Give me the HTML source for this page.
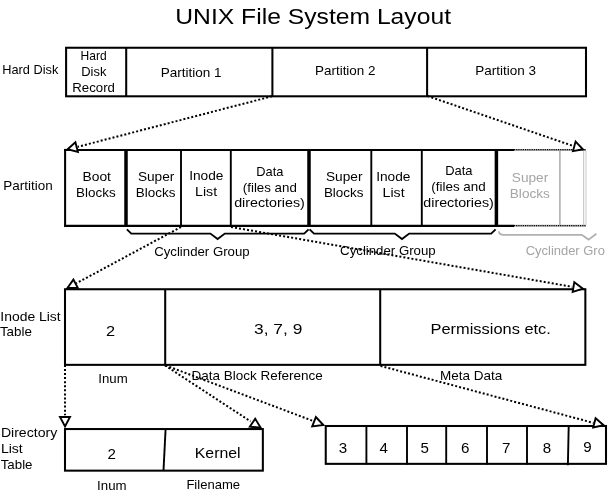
<!DOCTYPE html>
<html><head><meta charset="utf-8"><title>UNIX File System Layout</title>
<style>
html,body{margin:0;padding:0;background:#fff;}
svg{display:block;font-family:"Liberation Sans",sans-serif;will-change:transform;}
</style></head>
<body>
<svg width="609" height="497" viewBox="0 0 609 497">
<text x="313.15" y="23.70" font-size="21.40" text-anchor="middle" fill="#000" textLength="275.70" lengthAdjust="spacingAndGlyphs">UNIX File System Layout</text>
<rect x="66.1" y="47.75" width="519.90" height="48.55" fill="none" stroke="#000" stroke-width="2.05"/>
<line x1="126.2" y1="47.75" x2="126.2" y2="96.3" stroke="#000" stroke-width="2.05" />
<line x1="272.4" y1="47.75" x2="272.4" y2="96.3" stroke="#000" stroke-width="2.05" />
<line x1="427.1" y1="47.75" x2="427.1" y2="96.3" stroke="#000" stroke-width="2.05" />
<text x="30.30" y="73.70" font-size="12.80" text-anchor="middle" fill="#000" textLength="56.00" lengthAdjust="spacingAndGlyphs">Hard Disk</text>
<text x="93.55" y="59.80" font-size="12.80" text-anchor="middle" fill="#000" textLength="26.10" lengthAdjust="spacingAndGlyphs">Hard</text>
<text x="93.80" y="76.00" font-size="12.80" text-anchor="middle" fill="#000" textLength="25.20" lengthAdjust="spacingAndGlyphs">Disk</text>
<text x="93.60" y="91.80" font-size="12.80" text-anchor="middle" fill="#000" textLength="42.60" lengthAdjust="spacingAndGlyphs">Record</text>
<text x="191.15" y="76.60" font-size="12.80" text-anchor="middle" fill="#000" textLength="60.90" lengthAdjust="spacingAndGlyphs">Partition 1</text>
<text x="345.25" y="74.80" font-size="12.80" text-anchor="middle" fill="#000" textLength="60.50" lengthAdjust="spacingAndGlyphs">Partition 2</text>
<text x="505.55" y="75.30" font-size="12.80" text-anchor="middle" fill="#000" textLength="60.70" lengthAdjust="spacingAndGlyphs">Partition 3</text>
<line x1="65.1" y1="148.9" x2="65.1" y2="226.9" stroke="#000" stroke-width="2.05" />
<line x1="64.1" y1="149.9" x2="514" y2="149.9" stroke="#000" stroke-width="2.05" />
<line x1="64.1" y1="225.85" x2="514" y2="225.85" stroke="#000" stroke-width="2.05" />
<line x1="514" y1="149.9" x2="586" y2="149.9" stroke="#aaa" stroke-width="2"/>
<line x1="514" y1="149.70000000000002" x2="586" y2="149.70000000000002" stroke="#000" stroke-width="1.3" stroke-dasharray="1.1 1.1"/>
<line x1="514" y1="225.85" x2="586" y2="225.85" stroke="#aaa" stroke-width="2"/>
<line x1="514" y1="225.65" x2="586" y2="225.65" stroke="#000" stroke-width="1.3" stroke-dasharray="1.1 1.1"/>
<line x1="181.0" y1="149.9" x2="181.0" y2="225.85" stroke="#000" stroke-width="1.9" />
<line x1="230.8" y1="149.9" x2="230.8" y2="225.85" stroke="#000" stroke-width="1.9" />
<line x1="371.3" y1="149.9" x2="371.3" y2="225.85" stroke="#000" stroke-width="1.9" />
<line x1="421.8" y1="149.9" x2="421.8" y2="225.85" stroke="#000" stroke-width="1.9" />
<line x1="126.0" y1="149.9" x2="126.0" y2="225.85" stroke="#000" stroke-width="3.5" />
<line x1="309.0" y1="149.9" x2="309.0" y2="225.85" stroke="#000" stroke-width="3.5" />
<line x1="496.4" y1="149.9" x2="496.4" y2="225.85" stroke="#000" stroke-width="3.5" />
<line x1="559.9" y1="151" x2="559.9" y2="225" stroke="#b0b0b0" stroke-width="1.6" />
<line x1="583.7" y1="151" x2="583.7" y2="225" stroke="#b8b8b8" stroke-width="0.9" />
<line x1="586.0" y1="151" x2="586.0" y2="225" stroke="#c4c4c4" stroke-width="0.9" />
<text x="28.00" y="189.60" font-size="12.80" text-anchor="middle" fill="#000" textLength="49.40" lengthAdjust="spacingAndGlyphs">Partition</text>
<text x="96.70" y="180.70" font-size="12.80" text-anchor="middle" fill="#000" textLength="28.40" lengthAdjust="spacingAndGlyphs">Boot</text>
<text x="95.85" y="196.70" font-size="12.80" text-anchor="middle" fill="#000" textLength="39.50" lengthAdjust="spacingAndGlyphs">Blocks</text>
<text x="156.15" y="180.70" font-size="12.80" text-anchor="middle" fill="#000" textLength="36.50" lengthAdjust="spacingAndGlyphs">Super</text>
<text x="155.65" y="196.70" font-size="12.80" text-anchor="middle" fill="#000" textLength="39.70" lengthAdjust="spacingAndGlyphs">Blocks</text>
<text x="206.35" y="179.70" font-size="12.80" text-anchor="middle" fill="#000" textLength="34.30" lengthAdjust="spacingAndGlyphs">Inode</text>
<text x="206.10" y="195.60" font-size="12.80" text-anchor="middle" fill="#000" textLength="22.00" lengthAdjust="spacingAndGlyphs">List</text>
<text x="269.85" y="175.70" font-size="12.80" text-anchor="middle" fill="#000" textLength="27.10" lengthAdjust="spacingAndGlyphs">Data</text>
<text x="269.80" y="191.70" font-size="12.80" text-anchor="middle" fill="#000" textLength="54.00" lengthAdjust="spacingAndGlyphs">(files and</text>
<text x="269.50" y="207.30" font-size="12.80" text-anchor="middle" fill="#000" textLength="70.60" lengthAdjust="spacingAndGlyphs">directories)</text>
<text x="344.25" y="181.00" font-size="12.80" text-anchor="middle" fill="#000" textLength="36.50" lengthAdjust="spacingAndGlyphs">Super</text>
<text x="343.70" y="196.60" font-size="12.80" text-anchor="middle" fill="#000" textLength="39.60" lengthAdjust="spacingAndGlyphs">Blocks</text>
<text x="393.35" y="181.00" font-size="12.80" text-anchor="middle" fill="#000" textLength="34.30" lengthAdjust="spacingAndGlyphs">Inode</text>
<text x="393.60" y="196.60" font-size="12.80" text-anchor="middle" fill="#000" textLength="22.00" lengthAdjust="spacingAndGlyphs">List</text>
<text x="458.85" y="174.70" font-size="12.80" text-anchor="middle" fill="#000" textLength="27.30" lengthAdjust="spacingAndGlyphs">Data</text>
<text x="458.50" y="190.70" font-size="12.80" text-anchor="middle" fill="#000" textLength="54.40" lengthAdjust="spacingAndGlyphs">(files and</text>
<text x="458.55" y="206.70" font-size="12.80" text-anchor="middle" fill="#000" textLength="70.50" lengthAdjust="spacingAndGlyphs">directories)</text>
<text x="530.00" y="182.00" font-size="12.80" text-anchor="middle" fill="#a6a4a4" textLength="36.40" lengthAdjust="spacingAndGlyphs">Super</text>
<text x="529.85" y="197.90" font-size="12.80" text-anchor="middle" fill="#a6a4a4" textLength="40.10" lengthAdjust="spacingAndGlyphs">Blocks</text>
<path d="M126.9,229.4 L131.3,233.6 L210.4,233.6 L217.6,239.0 L224.79999999999998,233.6 L304.20000000000005,233.6 L308.6,229.4" fill="none" stroke="#000" stroke-width="1.9" stroke-linejoin="miter"/>
<path d="M309.6,229.4 L314.0,233.6 L394.8,233.6 L402,239.0 L409.2,233.6 L491.20000000000005,233.6 L495.6,229.4" fill="none" stroke="#000" stroke-width="1.9" stroke-linejoin="miter"/>
<path d="M498.8,231.3 Q499.3,234.8 503.5,234.8 L581.8,234.8 L588.6,239.6 L596.4,233.8" fill="none" stroke="#b0b0b0" stroke-width="1.8"/>
<text x="201.90" y="256.10" font-size="12.80" text-anchor="middle" fill="#000" textLength="95.40" lengthAdjust="spacingAndGlyphs">Cyclinder Group</text>
<text x="387.90" y="255.20" font-size="12.80" text-anchor="middle" fill="#000" textLength="95.60" lengthAdjust="spacingAndGlyphs">Cyclinder Group</text>
<text x="565.30" y="254.90" font-size="12.80" text-anchor="middle" fill="#a6a4a4" textLength="79.20" lengthAdjust="spacingAndGlyphs">Cyclinder Gro</text>
<rect x="65.0" y="289.25" width="520.35" height="75.60" fill="none" stroke="#000" stroke-width="2.05"/>
<line x1="165.2" y1="289.25" x2="165.2" y2="364.85" stroke="#000" stroke-width="2.05" />
<line x1="380.2" y1="289.25" x2="380.2" y2="364.85" stroke="#000" stroke-width="2.05" />
<text x="30.50" y="320.90" font-size="12.80" text-anchor="middle" fill="#000" textLength="60.40" lengthAdjust="spacingAndGlyphs">Inode List</text>
<text x="15.90" y="336.40" font-size="12.80" text-anchor="middle" fill="#000" textLength="32.00" lengthAdjust="spacingAndGlyphs">Table</text>
<text x="110.55" y="336.30" font-size="14.70" text-anchor="middle" fill="#000" textLength="9.10" lengthAdjust="spacingAndGlyphs">2</text>
<text x="278.20" y="333.80" font-size="14.70" text-anchor="middle" fill="#000" textLength="48.20" lengthAdjust="spacingAndGlyphs">3, 7, 9</text>
<text x="490.70" y="333.70" font-size="14.70" text-anchor="middle" fill="#000" textLength="120.40" lengthAdjust="spacingAndGlyphs">Permissions etc.</text>
<text x="113.00" y="382.80" font-size="12.80" text-anchor="middle" fill="#000" textLength="29.40" lengthAdjust="spacingAndGlyphs">Inum</text>
<text x="257.05" y="379.80" font-size="12.80" text-anchor="middle" fill="#000" textLength="131.30" lengthAdjust="spacingAndGlyphs">Data Block Reference</text>
<text x="471.05" y="379.60" font-size="12.80" text-anchor="middle" fill="#000" textLength="62.30" lengthAdjust="spacingAndGlyphs">Meta Data</text>
<rect x="65.0" y="429.05" width="197.85" height="41.60" fill="none" stroke="#000" stroke-width="2.05"/>
<line x1="165.6" y1="429" x2="163.5" y2="470.6" stroke="#000" stroke-width="1.9" />
<text x="29.05" y="436.60" font-size="12.80" text-anchor="middle" fill="#000" textLength="56.30" lengthAdjust="spacingAndGlyphs">Directory</text>
<text x="11.85" y="452.90" font-size="12.80" text-anchor="middle" fill="#000" textLength="21.90" lengthAdjust="spacingAndGlyphs">List</text>
<text x="16.60" y="468.60" font-size="12.80" text-anchor="middle" fill="#000" textLength="31.80" lengthAdjust="spacingAndGlyphs">Table</text>
<text x="111.80" y="459.40" font-size="14.70" text-anchor="middle" fill="#000" textLength="8.40" lengthAdjust="spacingAndGlyphs">2</text>
<text x="217.70" y="457.90" font-size="14.20" text-anchor="middle" fill="#000" textLength="45.80" lengthAdjust="spacingAndGlyphs">Kernel</text>
<text x="111.85" y="489.90" font-size="12.80" text-anchor="middle" fill="#000" textLength="29.50" lengthAdjust="spacingAndGlyphs">Inum</text>
<text x="213.25" y="489.30" font-size="12.80" text-anchor="middle" fill="#000" textLength="53.70" lengthAdjust="spacingAndGlyphs">Filename</text>
<rect x="325.75" y="426.0" width="280.25" height="37.85" fill="none" stroke="#000" stroke-width="2.05"/>
<line x1="366.4" y1="426" x2="366.4" y2="464.4" stroke="#000" stroke-width="1.9" />
<line x1="407.0" y1="426" x2="407.0" y2="464.4" stroke="#000" stroke-width="1.9" />
<line x1="446.2" y1="426" x2="446.2" y2="464.4" stroke="#000" stroke-width="1.9" />
<line x1="487.0" y1="426" x2="487.0" y2="464.4" stroke="#000" stroke-width="1.9" />
<line x1="527" y1="426" x2="527" y2="464.4" stroke="#000" stroke-width="1.9" />
<line x1="568.7" y1="426" x2="567.9" y2="465.2" stroke="#000" stroke-width="1.9" />
<text x="342.90" y="452.90" font-size="15.40" text-anchor="middle" fill="#000" textLength="8.40" lengthAdjust="spacingAndGlyphs">3</text>
<text x="383.70" y="452.90" font-size="15.40" text-anchor="middle" fill="#000" textLength="8.40" lengthAdjust="spacingAndGlyphs">4</text>
<text x="424.70" y="452.90" font-size="15.40" text-anchor="middle" fill="#000" textLength="8.40" lengthAdjust="spacingAndGlyphs">5</text>
<text x="465.30" y="453.00" font-size="15.40" text-anchor="middle" fill="#000" textLength="8.40" lengthAdjust="spacingAndGlyphs">6</text>
<text x="506.30" y="453.00" font-size="15.40" text-anchor="middle" fill="#000" textLength="8.40" lengthAdjust="spacingAndGlyphs">7</text>
<text x="547.00" y="453.00" font-size="15.40" text-anchor="middle" fill="#000" textLength="8.40" lengthAdjust="spacingAndGlyphs">8</text>
<text x="587.50" y="451.70" font-size="15.40" text-anchor="middle" fill="#000" textLength="8.40" lengthAdjust="spacingAndGlyphs">9</text>
<line x1="272" y1="96.3" x2="77.7" y2="146.8" stroke="#000" stroke-width="2" stroke-dasharray="2 2.07"/>
<line x1="427.5" y1="96.0" x2="573.3" y2="146.0" stroke="#000" stroke-width="2" stroke-dasharray="2 2.07"/>
<line x1="181" y1="227" x2="76.3" y2="283.3" stroke="#000" stroke-width="2" stroke-dasharray="2 2.07"/>
<line x1="231" y1="227" x2="572.2" y2="286.8" stroke="#000" stroke-width="2" stroke-dasharray="2 2.07"/>
<line x1="65.0" y1="364.9" x2="65.0" y2="415.2" stroke="#000" stroke-width="2" stroke-dasharray="2 2.07"/>
<line x1="165.0" y1="365.4" x2="250.6" y2="421.4" stroke="#000" stroke-width="2" stroke-dasharray="2 2.07"/>
<line x1="165.5" y1="365.4" x2="313.2" y2="421" stroke="#000" stroke-width="2" stroke-dasharray="2 2.07"/>
<line x1="380.5" y1="365.9" x2="593.5" y2="422.9" stroke="#000" stroke-width="2" stroke-dasharray="2 2.07"/>
<polygon points="67.6,149.2 75.4,142.3 77.9,152.0" fill="#fff" stroke="#000" stroke-width="1.9" stroke-linejoin="miter"/>
<polygon points="583.0,149.3 575.6,141.6 573.0,151.1" fill="#fff" stroke="#000" stroke-width="1.9" stroke-linejoin="miter"/>
<polygon points="67.4,288.0 73.4,279.6 77.8,287.8" fill="#fff" stroke="#000" stroke-width="1.9" stroke-linejoin="miter"/>
<polygon points="583,288.7 574.3,282.2 572.7,291.8" fill="#fff" stroke="#000" stroke-width="1.9" stroke-linejoin="miter"/>
<polygon points="65,426.4 60.0,417.05 70.0,417.05" fill="#fff" stroke="#000" stroke-width="1.9" stroke-linejoin="miter"/>
<polygon points="255.2,418.7 249.8,426.7 260.6,427.6" fill="#fff" stroke="#000" stroke-width="1.9" stroke-linejoin="miter"/>
<polygon points="323.3,425.0 315.9,417.1 312.2,426.4" fill="#fff" stroke="#000" stroke-width="1.9" stroke-linejoin="miter"/>
<polygon points="603.7,425.2 595.6,418.3 593.2,427.4" fill="#fff" stroke="#000" stroke-width="1.9" stroke-linejoin="miter"/>
</svg>
</body></html>
